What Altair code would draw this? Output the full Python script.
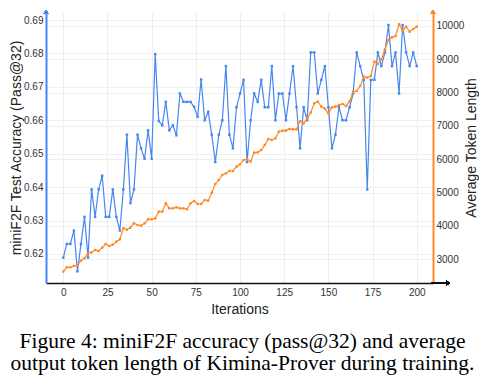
import altair as alt
import pandas as pd

iterations = list(range(0, 201, 2))

accuracy = [
    0.6189, 0.6230, 0.6230, 0.6270, 0.6148, 0.6230, 0.6311, 0.6189, 0.6393, 0.6311,
    0.6393, 0.6434, 0.6311, 0.6311, 0.6393, 0.6311, 0.6270, 0.6393, 0.6557, 0.6352,
    0.6393, 0.6557, 0.6516, 0.6485, 0.6570, 0.6485, 0.6798, 0.6598, 0.6585, 0.6655,
    0.6570, 0.6585, 0.6555, 0.6680, 0.6655, 0.6655, 0.6655, 0.6640, 0.6610, 0.6722,
    0.6600, 0.6625, 0.6557, 0.6475, 0.6557, 0.6600, 0.6762, 0.6557, 0.6516, 0.6639,
    0.6680, 0.6721, 0.6475, 0.6600, 0.6680, 0.6655, 0.6721, 0.6639, 0.6639, 0.6762,
    0.6600, 0.6680, 0.6680, 0.6600, 0.6680, 0.6762, 0.6639, 0.6516, 0.6639, 0.6600,
    0.6803, 0.6803, 0.6680, 0.6721, 0.6762, 0.6639, 0.6516, 0.6557, 0.6639, 0.6600,
    0.6600, 0.6639, 0.6680, 0.6803, 0.6762, 0.6721, 0.6393, 0.6721, 0.6721, 0.6803,
    0.6762, 0.6803, 0.6885, 0.6762, 0.6803, 0.6680, 0.6885, 0.6803, 0.6762, 0.6803,
    0.6762,
]

token_length = [
    2630, 2760, 2760, 2800, 2820, 2960, 3030, 3180, 3210, 3280,
    3250, 3350, 3460, 3400, 3440, 3530, 3600, 3930, 3890, 3950,
    4080, 4030, 4010, 4080, 4200, 4200, 4230, 4430, 4430, 4680,
    4530, 4530, 4560, 4530, 4530, 4500, 4680, 4750, 4660, 4660,
    4780, 4760, 5000, 5260, 5380, 5530, 5580, 5650, 5650, 5780,
    5850, 5980, 6000, 5930, 6200, 6210, 6280, 6430, 6610, 6580,
    6630, 6830, 6860, 6860, 6910, 6900, 6900, 7150, 7080, 7230,
    7400, 7680, 7730, 7580, 7520, 7380, 7560, 7580, 7630, 7660,
    7600, 7730, 8030, 8050, 8200, 8480, 8450, 8500, 8930, 8860,
    9000, 9300, 9580, 9660, 9700, 10050, 9860, 9980, 9830, 9910,
    9980,
]

x_ticks = [0, 25, 50, 75, 100, 125, 150, 175, 200]
acc_ticks = [0.62, 0.63, 0.64, 0.65, 0.66, 0.67, 0.68, 0.69]
tok_ticks = [3000, 4000, 5000, 6000, 7000, 8000, 9000, 10000]

caption = [
    "Figure 4: miniF2F accuracy (pass@32) and average",
    "output token length of Kimina-Prover during training.",
]

df = pd.DataFrame({"iter": iterations, "acc": accuracy, "tok": token_length})

BLUE = "#4686f2"
ORANGE = "#ff8a24"
GRID = "#efefef"
W, H = 387, 271
FONT = "Liberation Sans"
LBL = 10
TTL = 14

x_axis = alt.Axis(
    values=x_ticks, title="Iterations", grid=True, gridColor=GRID,
    ticks=False, labelPadding=4, titlePadding=5,
    domainColor="#111111", domainWidth=1.6,
    labelFont=FONT, labelFontSize=LBL, labelColor="#333333",
    titleFont=FONT, titleFontSize=TTL, titleFontWeight="normal", titleColor="#222222",
)
x_scale = alt.Scale(domain=[-9.79, 209.2], nice=False, zero=False)

base = alt.Chart(df)

blue = base.mark_line(
    color=BLUE, strokeWidth=1.2,
    point=alt.OverlayMarkDef(shape="square", size=6, filled=True, color=BLUE),
).encode(
    x=alt.X("iter:Q", scale=x_scale, axis=x_axis),
    y=alt.Y(
        "acc:Q",
        scale=alt.Scale(domain=[0.6113, 0.6924], nice=False, zero=False),
        axis=alt.Axis(
            orient="left", values=acc_ticks, format=".2f",
            title="miniF2F Test Accuracy (Pass@32)", grid=True, gridColor=GRID,
            ticks=False, labelPadding=3, titlePadding=0,
            domainColor=BLUE, domainWidth=2,
            labelFont=FONT, labelFontSize=LBL, labelColor="#333333",
            titleFont=FONT, titleFontSize=TTL, titleFontWeight="normal", titleColor="#222222",
        ),
    ),
)

orange = base.mark_line(
    color=ORANGE, strokeWidth=1.2,
    point=alt.OverlayMarkDef(shape="circle", size=7, filled=True, color=ORANGE),
).encode(
    x=alt.X("iter:Q", scale=x_scale, axis=x_axis),
    y=alt.Y(
        "tok:Q",
        scale=alt.Scale(domain=[2289, 10420], nice=False, zero=False),
        axis=alt.Axis(
            orient="right", values=tok_ticks, format="d",
            title="Average Token Length", titleAngle=270, titleBaseline="top",
            grid=True, gridColor=GRID,
            ticks=False, labelPadding=3, titlePadding=1,
            domainColor=ORANGE, domainWidth=2,
            labelFont=FONT, labelFontSize=LBL, labelColor="#333333",
            titleFont=FONT, titleFontSize=TTL, titleFontWeight="normal", titleColor="#222222",
        ),
    ),
)

arrow_left = alt.Chart(df).mark_point(
    shape="triangle-up", filled=True, size=22, color=BLUE, opacity=1
).encode(x=alt.value(0), y=alt.value(0))

arrow_right = alt.Chart(df).mark_point(
    shape="triangle-up", filled=True, size=22, color=ORANGE, opacity=1
).encode(x=alt.value(W), y=alt.value(0))

x_ext = alt.Chart(df).mark_rule(color="#111111", strokeWidth=1.6).encode(
    x=alt.value(W - 2), x2=alt.value(W + 14), y=alt.value(H)
)
arrow_x = alt.Chart(df).mark_point(
    shape="triangle-right", filled=True, size=22, color="#111111", opacity=1
).encode(x=alt.value(W + 15), y=alt.value(H))

chart = alt.layer(
    blue, orange, x_ext, arrow_left, arrow_right, arrow_x
).resolve_scale(y="independent").properties(
    width=W, height=H,
    autosize=alt.AutoSizeParams(type="none"),
    padding={"left": 38, "top": 4, "right": 46, "bottom": 93},
    title=alt.TitleParams(
        text=caption, orient="bottom", anchor="middle",
        font="Liberation Serif", fontSize=21.5, lineHeight=22,
        fontWeight="normal", color="#000000", offset=15, dx=3,
    ),
).configure_view(stroke=None)

chart.save("out.html", embed_options={"renderer": "svg", "actions": False})
